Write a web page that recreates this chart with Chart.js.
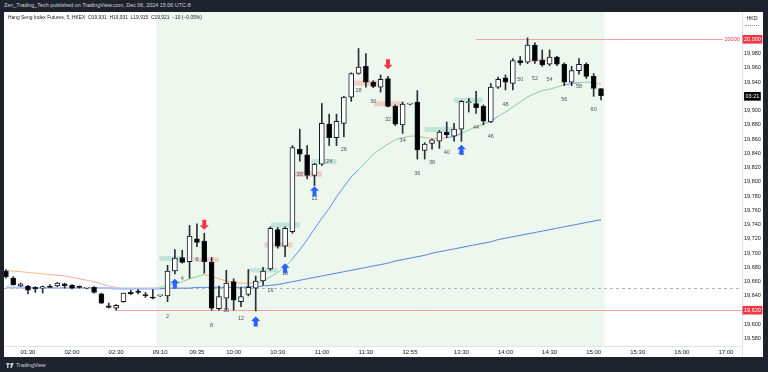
<!DOCTYPE html>
<html>
<head>
<meta charset="utf-8">
<script src="https://cdn.jsdelivr.net/npm/chart.js@4.4.1/dist/chart.umd.min.js"></script>
<style>
  html, body { margin: 0; padding: 0; background: #1e222d; }
  body { width: 768px; height: 372px; position: relative; overflow: hidden; font-family: "Liberation Sans", Arial, sans-serif; }
  #head { position: absolute; left: 4px; top: 1px; font-size: 5.4px; line-height: 9px; color: #d1d4dc; white-space: nowrap; }
  #panel { position: absolute; left: 4px; top: 12px; width: 759px; height: 345px; background: #fff; }
  #c { position: absolute; left: 0; top: 0; }
  #legend { position: absolute; left: 4px; top: 2px; font-size: 4.9px; line-height: 7px; color: #131722; white-space: nowrap; }
  #hkd { position: absolute; left: 741px; top: 2px; width: 14px; font-size: 5.3px; line-height: 9px; text-align: center; color: #131722; border-bottom: 1px dotted #9598a1; padding-bottom: 2px; }
  #foot { position: absolute; left: 6px; top: 361px; font-size: 5.4px; line-height: 8px; color: #d1d4dc; white-space: nowrap; }
  #foot svg { vertical-align: -1px; margin-right: 2px; }
</style>
</head>
<body>
<div id="head">Zen_Trading_Tech published on TradingView.com, Dec 06, 2024 15:06 UTC-8</div>
<div id="panel">
  <canvas id="c" width="759" height="345"></canvas>
  <div id="legend">Hang Seng Index Futures, 5, HKEX&nbsp; O19,931&nbsp; H19,931&nbsp; L19,915&nbsp; C19,921&nbsp; −10 (−0.05%)</div>
  <div id="hkd">HKD</div>
</div>
<div id="foot"><svg width="8" height="5" viewBox="0 0 9 6"><rect x="0" y="0" width="3.5" height="1.6" fill="#d1d4dc"/><rect x="1" y="0" width="1.6" height="6" fill="#d1d4dc"/><circle cx="4.6" cy="1.3" r="1" fill="#d1d4dc"/><polygon points="6,0 9,0 6.5,6 5,6" fill="#d1d4dc"/></svg>TradingView</div>

<script>
// 5 min bars, slot 0 = first visible bar of the night session, slot 21 = first bar of the day
const opens = [
  19675, 19665, 19654, 19654, 19652, 19651, 19653, 19654, 19657, 19655,
  19653, 19651, 19652, 19643, 19626, 19623, 19632, 19645, 19647, 19642,
  19638, 19640, 19640, 19675, 19694, 19688, 19720, 19717, 19687, 19622,
  19637, 19660, 19632, 19642, 19651, 19661, 19678, 19733, 19710, 19730,
  19846, 19838, 19809, 19825, 19881, 19862, 19882, 19919, 19952, 19962,
  19940, 19933, 19945, 19906, 19880, 19909, 19912, 19844, 19854, 19857,
  19870, 19864, 19874, 19911, 19910, 19906, 19884, 19933, 19946, 19938,
  19970, 19968, 19992, 19971, 19965, 19975, 19965, 19940, 19956, 19965,
  19948, 19931
];
const highs = [
  19677, 19667, 19658, 19655, 19653, 19654, 19656, 19659, 19658, 19656,
  19654, 19652, 19653, 19644, 19630, 19628, 19644, 19648, 19649, 19645,
  19649, 19641, 19683, 19705, 19704, 19739, 19741, 19728, 19694, 19654,
  19676, 19664, 19652, 19677, 19668, 19680, 19737, 19736, 19737, 19851,
  19874, 19851, 19826, 19910, 19895, 19895, 19920, 19953, 19987, 19980,
  19942, 19950, 19948, 19908, 19912, 19910, 19928, 19855, 19860, 19872,
  19884, 19882, 19914, 19917, 19927, 19908, 19938, 19947, 19950, 19973,
  19976, 20002, 19995, 19985, 19985, 19976, 19967, 19962, 19973, 19967,
  19952, 19931
];
const lows = [
  19665, 19655, 19653, 19643, 19645, 19644, 19652, 19653, 19651, 19650,
  19651, 19650, 19644, 19629, 19623, 19620, 19631, 19642, 19643, 19638,
  19636, 19639, 19632, 19671, 19686, 19665, 19709, 19672, 19620, 19620,
  19620, 19620, 19625, 19640, 19619, 19655, 19676, 19707, 19695, 19728,
  19829, 19804, 19795, 19823, 19851, 19851, 19863, 19913, 19951, 19933,
  19932, 19926, 19905, 19879, 19868, 19908, 19832, 19832, 19846, 19847,
  19862, 19857, 19857, 19898, 19896, 19880, 19883, 19931, 19929, 19929,
  19964, 19966, 19966, 19962, 19963, 19963, 19935, 19935, 19951, 19945,
  19920, 19915
];
const closes = [
  19667, 19656, 19657, 19648, 19650, 19653, 19652, 19658, 19654, 19651,
  19652, 19651, 19645, 19630, 19624, 19627, 19644, 19643, 19645, 19640,
  19637, 19640, 19675, 19693, 19687, 19724, 19715, 19688, 19623, 19639,
  19658, 19634, 19639, 19652, 19661, 19675, 19735, 19710, 19735, 19848,
  19839, 19809, 19825, 19882, 19862, 19885, 19919, 19952, 19961, 19940,
  19934, 19944, 19906, 19881, 19909, 19909, 19845, 19853, 19859, 19870,
  19866, 19874, 19913, 19912, 19904, 19885, 19933, 19944, 19940, 19970,
  19967, 19992, 19970, 19964, 19975, 19965, 19940, 19956, 19965, 19948,
  19931, 19921
];
// fast and slow moving averages, one value per slot
const fastMa = [
  19676, 19675, 19674, 19673, 19672, 19671, 19670, 19669, 19668, 19666,
  19664, 19662, 19660, 19657, 19654, 19652, 19651, 19651, 19651, 19651,
  19651, 19652, 19654, 19657, 19660, 19664, 19667, 19670, 19667, 19664,
  19661, 19659, 19658, 19658, 19658, 19661, 19667, 19673, 19681, 19692,
  19705, 19719, 19734, 19749, 19763, 19779, 19793, 19807, 19817, 19828,
  19839, 19846, 19853, 19859, 19862, 19864, 19864, 19862, 19861, 19861,
  19862, 19864, 19868, 19873, 19877, 19881, 19885, 19892, 19898, 19905,
  19912, 19919, 19924, 19928, 19930, 19933, 19936, 19938, 19939, 19940,
  19939, 19937
];
const slowMa = [
  19652, 19652, 19652, 19652, 19651, 19651, 19651, 19651, 19651, 19651,
  19651, 19651, 19651, 19651, 19651, 19650, 19650, 19650, 19650, 19650,
  19650, 19650, 19651, 19651, 19651, 19651, 19652, 19652, 19652, 19652,
  19652, 19652, 19652, 19653, 19653, 19654, 19655, 19656, 19658, 19660,
  19662, 19664, 19666, 19668, 19670, 19672, 19674, 19676, 19678, 19680,
  19682, 19684, 19686, 19689, 19691, 19693, 19695, 19697, 19700, 19702,
  19704, 19706, 19708, 19710, 19712, 19714, 19716, 19719, 19721, 19723,
  19725, 19727, 19729, 19731, 19733, 19735, 19737, 19739, 19741, 19743,
  19745, 19747
];
const slots = opens.map((_, i) => i);

const timeTickSlots  = [3, 9, 15, 21, 26, 31, 37, 43, 49, 55, 62, 68, 74, 80, 86, 92, 98];
const timeTickLabels = ['01:30', '02:00', '02:30', '09:10', '09:35', '10:00', '10:30', '11:00', '11:30',
                        '12:55', '13:30', '14:00', '14:30', '15:00', '15:30', '16:00', '17:00'];
const priceTicks = [19580, 19600, 19620, 19640, 19660, 19680, 19700, 19720, 19740, 19760, 19780,
                    19800, 19820, 19840, 19860, 19880, 19900, 19920, 19940, 19960, 19980, 20000];

// bar counter printed under every other bar of the day session
const barNumbers = [2, 4, 6, 8, 10, 12, 14, 16, 18, 20, 22, 24, 26, 28, 30,
                    32, 34, 36, 38, 40, 42, 44, 46, 48, 50, 52, 54, 56, 58, 60];
const barNumberPrices = [19611, 19665, 19691, 19599, 19620, 19609, 19605, 19648, 19672, 19811,
                         19777, 19828, 19846, 19928, 19913, 19888, 19858, 19812, 19827, 19841,
                         19840, 19877, 19864, 19909, 19944, 19945, 19944, 19916, 19934, 19901];

const buySlots   = [23, 34, 38, 42, 62];
const buyPrices  = [19657, 19604, 19679, 19787, 19845];
const sellSlots  = [27, 52];
const sellPrices = [19740, 19965];

// [from slot, to slot, low, high]
const greenZones = [[20.9, 23.8, 19689, 19696], [33.1, 37.0, 19673, 19679], [36.1, 40.0, 19736, 19743],
                    [41.6, 45.0, 19825, 19832], [57.0, 60.9, 19870, 19877], [61.0, 64.9, 19911, 19918]];
const redZones   = [[25.5, 29.0, 19688, 19694], [35.2, 39.0, 19708, 19715], [39.3, 43.0, 19807, 19815],
                    [47.4, 50.7, 19935, 19942], [50.1, 54.0, 19906, 19913], [71.3, 74.1, 19968, 19973]];

const sessionStart = 20.5, sessionEnd = 81.5;
const prevLevel = 19651.5;
const lowLevel = 19620, lowLevelFrom = 15;
const highLevel = 20000, highLevelFrom = 64, highLevelTo = 97.6;
const countdownTick = 19920;

// line colour changes along the fast average: [from slot, colour]
const fastColours = [[0, '#f7b77a'], [6, '#f3a29a'], [15, '#cdc6e8'], [21, '#86cf96'], [27, '#f7b26b'],
                     [34, '#86cf96'], [39, '#5b8def'], [48, '#86cf96'], [57, '#f7b26b'], [60, '#5b8def'],
                     [62, '#86cf96'], [66, '#5b8def'], [67, '#86cf96'], [76, '#5b8def'], [78, '#86cf96'],
                     [80, '#f3a29a']];

function fastColourAt(s) {
  let c = fastColours[0][1];
  fastColours.forEach(([from, col]) => { if (s >= from) c = col; });
  return c;
}
function fmt(v) { return String(v).replace(/\B(?=(\d{3})+(?!\d))/g, ','); }

function drawArrow(ctx, cx, cy, up, colour) {
  const s = up ? 1 : -1;
  ctx.fillStyle = colour;
  ctx.beginPath();
  ctx.moveTo(cx, cy - 5 * s);
  ctx.lineTo(cx + 4.5, cy - 0.5 * s);
  ctx.lineTo(cx + 2, cy - 0.5 * s);
  ctx.lineTo(cx + 2, cy + 5 * s);
  ctx.lineTo(cx - 2, cy + 5 * s);
  ctx.lineTo(cx - 2, cy - 0.5 * s);
  ctx.lineTo(cx - 4.5, cy - 0.5 * s);
  ctx.closePath();
  ctx.fill();
}

const decor = {
  id: 'decor',
  beforeDatasetsDraw(chart) {
    const { ctx, chartArea: a, scales: { x, y } } = chart;
    ctx.save();
    ctx.beginPath();
    ctx.rect(a.left, a.top, a.right - a.left, a.bottom - a.top);
    ctx.clip();

    // day session highlight
    const s0 = x.getPixelForValue(sessionStart), s1 = x.getPixelForValue(sessionEnd);
    ctx.fillStyle = '#edf7ee';
    ctx.fillRect(s0, a.top, s1 - s0, a.bottom - a.top);

    // levels
    ctx.lineWidth = 1;
    ctx.strokeStyle = '#b2b5be';
    ctx.setLineDash([3, 3]);
    let py = Math.round(y.getPixelForValue(prevLevel)) + 0.5;
    ctx.beginPath(); ctx.moveTo(a.left, py); ctx.lineTo(a.right, py); ctx.stroke();
    ctx.setLineDash([]);
    ctx.strokeStyle = '#f7a1a6';
    py = Math.round(y.getPixelForValue(lowLevel)) + 0.5;
    ctx.beginPath(); ctx.moveTo(x.getPixelForValue(lowLevelFrom), py); ctx.lineTo(a.right, py); ctx.stroke();
    py = Math.round(y.getPixelForValue(highLevel)) + 0.5;
    ctx.beginPath(); ctx.moveTo(x.getPixelForValue(highLevelFrom), py); ctx.lineTo(x.getPixelForValue(highLevelTo), py); ctx.stroke();

    // zones
    const zone = (z, colour) => {
      const x0 = x.getPixelForValue(z[0]), x1 = x.getPixelForValue(z[1]);
      const y0 = y.getPixelForValue(z[3]), y1 = y.getPixelForValue(z[2]);
      ctx.fillStyle = colour;
      ctx.fillRect(x0, y0, x1 - x0, y1 - y0);
    };
    greenZones.forEach(z => zone(z, 'rgba(38,166,154,0.22)'));
    redZones.forEach(z => zone(z, 'rgba(239,83,80,0.25)'));
    ctx.restore();
  },
  afterDatasetsDraw(chart) {
    const { ctx, chartArea: a, scales: { x, y } } = chart;
    ctx.save();
    ctx.font = '5.5px "Liberation Sans", Arial, sans-serif';
    ctx.textAlign = 'center';
    ctx.textBaseline = 'middle';
    ctx.fillStyle = '#50535e';
    barNumbers.forEach((n, i) => {
      ctx.fillText(String(n), x.getPixelForValue(20 + n), y.getPixelForValue(barNumberPrices[i]));
    });
    buySlots.forEach((s, i) => drawArrow(ctx, x.getPixelForValue(s), y.getPixelForValue(buyPrices[i]), true, '#2962ff'));
    sellSlots.forEach((s, i) => drawArrow(ctx, x.getPixelForValue(s), y.getPixelForValue(sellPrices[i]), false, '#f23645'));

    // label at the end of the 20000 line
    ctx.textAlign = 'left';
    ctx.fillStyle = '#f23645';
    ctx.fillText(String(highLevel), x.getPixelForValue(highLevelTo) + 1.5, y.getPixelForValue(highLevel));

    // axis separator continues through the time scale
    ctx.strokeStyle = '#e0e3eb';
    ctx.beginPath();
    ctx.moveTo(a.right + 0.5, a.bottom); ctx.lineTo(a.right + 0.5, chart.height);
    ctx.stroke();
    ctx.restore();
  }
};

new Chart(document.getElementById('c'), {
  type: 'bar',
  data: {
    datasets: [
      {
        type: 'line', label: 'fast', order: 4,
        data: slots.map((s, i) => ({ x: s, y: fastMa[i] })),
        borderWidth: 1, pointRadius: 0, tension: 0.2,
        borderColor: '#86cf96',
        segment: { borderColor: c => fastColourAt(c.p0.parsed.x) }
      },
      {
        type: 'line', label: 'slow', order: 3,
        data: slots.map((s, i) => ({ x: s, y: slowMa[i] })),
        borderWidth: 1, pointRadius: 0, tension: 0.2,
        borderColor: '#4f7be0',
        segment: {
          borderColor: c => c.p0.parsed.x < 21 ? '#aac4f3' : '#4f7be0',
          borderWidth: c => c.p0.parsed.x < 21 ? 2 : 1
        }
      },
      {
        label: 'wick', order: 2, grouped: false,
        data: slots.map((s, i) => ({ x: s, y: [lows[i], highs[i]] })),
        barThickness: 1, backgroundColor: '#2a2e39', borderWidth: 0
      },
      {
        label: 'body', order: 1, grouped: false,
        data: slots.map((s, i) => ({ x: s, y: [opens[i], closes[i]] })),
        barThickness: 5, minBarLength: 1,
        backgroundColor: slots.map(i => closes[i] >= opens[i] ? '#ffffff' : '#000000'),
        borderColor: '#131722', borderWidth: 1, borderSkipped: false
      }
    ]
  },
  options: {
    responsive: false,
    animation: false,
    events: [],
    devicePixelRatio: 1,
    layout: { padding: 0 },
    plugins: { legend: { display: false }, tooltip: { enabled: false } },
    scales: {
      x: {
        type: 'linear', min: -0.259, max: 100.19, offset: false,
        grid: { display: false, drawTicks: false },
        border: { display: true, color: '#e0e3eb' },
        ticks: {
          autoSkip: false, maxRotation: 0, padding: 3,
          font: { size: 6, family: '"Liberation Sans", Arial, sans-serif' },
          color: '#131722',
          callback: (v, i) => timeTickLabels[i]
        },
        afterBuildTicks: s => { s.ticks = timeTickSlots.map(v => ({ value: v })); },
        afterFit: s => { s.height = 11; s.paddingLeft = 0; s.paddingRight = 0; }
      },
      y: {
        type: 'linear', position: 'right', min: 19569.8, max: 20038.3, beginAtZero: false,
        grid: { display: false, drawTicks: false },
        border: { display: true, color: '#e0e3eb' },
        ticks: {
          padding: 2, crossAlign: 'center',
          font: { size: 5.5, family: '"Liberation Sans", Arial, sans-serif' },
          color: c => [highLevel, lowLevel, countdownTick].includes(c.tick.value) ? '#ffffff' : '#131722',
          showLabelBackdrop: c => [highLevel, lowLevel, countdownTick].includes(c.tick.value),
          backdropColor: c => c.tick.value === countdownTick ? '#000000' : '#f23645',
          backdropPadding: { x: 1.5, y: 1 },
          callback: v => v === countdownTick ? '03:21' : fmt(v)
        },
        afterBuildTicks: s => { s.ticks = priceTicks.map(v => ({ value: v })); },
        afterFit: s => { s.width = 21; s.paddingTop = 0; s.paddingBottom = 0; }
      }
    }
  },
  plugins: [decor]
});
</script>
</body>
</html>
